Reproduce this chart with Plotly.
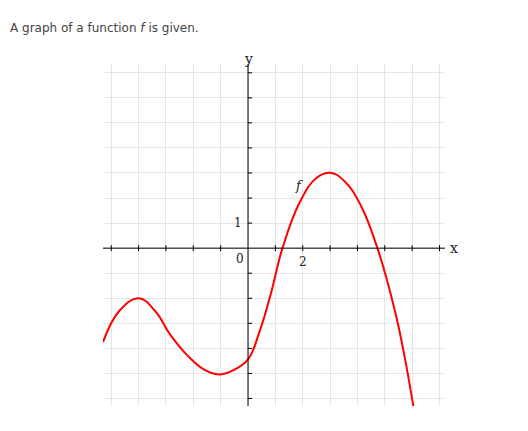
import plotly.graph_objects as go

# points
curve_x = [-5.3, -4.7, -4.0, -3.4, -2.85, -2.2, -1.6, -1.06, -0.5, 0.0, 0.4, 0.83, 1.26, 1.9, 2.5, 3.0, 3.5, 4.1, 4.73, 5.34, 5.7, 6.05]
curve_y = [-3.75, -2.5, -2.0, -2.5, -3.44, -4.3, -4.85, -5.04, -4.85, -4.44, -3.4, -1.84, 0.0, 1.85, 2.8, 3.01, 2.7, 1.75, 0.0, -2.37, -4.2, -6.35]

x_ticks = list(range(-5, 8))
y_ticks = list(range(-6, 8))
tick_labels = [("0", -0.3, -0.45), ("2", 2, -0.55), ("1", -0.35, 1)]

X0, X1 = -5.3, 7.2
Y0, Y1 = -6.3, 7.35

fig = go.Figure()
fig.add_trace(go.Scatter(x=curve_x, y=curve_y, mode='lines',
                         line=dict(color='#ff0000', width=2, shape='spline', smoothing=1.2),
                         hoverinfo='skip'))

shapes = []
for t in x_ticks:
    if t != 0:
        shapes.append(dict(type='line', x0=t, x1=t, y0=-0.12, y1=0.12,
                           line=dict(color='black', width=1)))
for t in y_ticks:
    if t != 0:
        shapes.append(dict(type='line', x0=0, x1=0.15, y0=t, y1=t,
                           line=dict(color='black', width=1)))
shapes.append(dict(type='line', x0=X0, x1=X1, y0=0, y1=0, line=dict(color='black', width=1)))
shapes.append(dict(type='line', x0=0, x1=0, y0=Y0, y1=Y1, line=dict(color='black', width=1)))

annotations = []
for txt, ax, ay in tick_labels:
    annotations.append(dict(x=ax, y=ay, text=txt, showarrow=False,
                            font=dict(family='DejaVu Serif', size=12, color='#222')))
annotations += [
    dict(xref='paper', y=0, x=(7.75 - X0) / (X1 - X0), text='x', showarrow=False,
         font=dict(family='DejaVu Serif', size=14, color='#222')),
    dict(x=0, yref='paper', y=(7.95 - Y0) / (Y1 - Y0), text='y', showarrow=False,
         font=dict(family='DejaVu Serif', size=14, color='#222')),
    dict(x=1.85, y=2.5, text='<i>f</i>', showarrow=False, font=dict(family='DejaVu Serif', size=13, color='#222')),
    dict(xref='paper', yref='paper', x=-95 / 342, y=1 + 45 / 342, xanchor='left',
         text='A graph of a function <i>f</i> is given.', showarrow=False,
         font=dict(family='DejaVu Sans', size=12, color='#444')),
]

fig.update_layout(
    width=528, height=431,
    margin=dict(l=95, r=91, t=56, b=33),
    paper_bgcolor='white', plot_bgcolor='white',
    showlegend=False, shapes=shapes, annotations=annotations,
)
fig.update_xaxes(range=[X0, X1], tickvals=x_ticks, showticklabels=False, showgrid=True,
                 gridcolor='#e6e6e6', zeroline=False, fixedrange=True)
fig.update_yaxes(range=[Y0, Y1], tickvals=y_ticks, showticklabels=False, showgrid=True,
                 gridcolor='#e6e6e6', zeroline=False, fixedrange=True)

fig.write_html("out.html")
